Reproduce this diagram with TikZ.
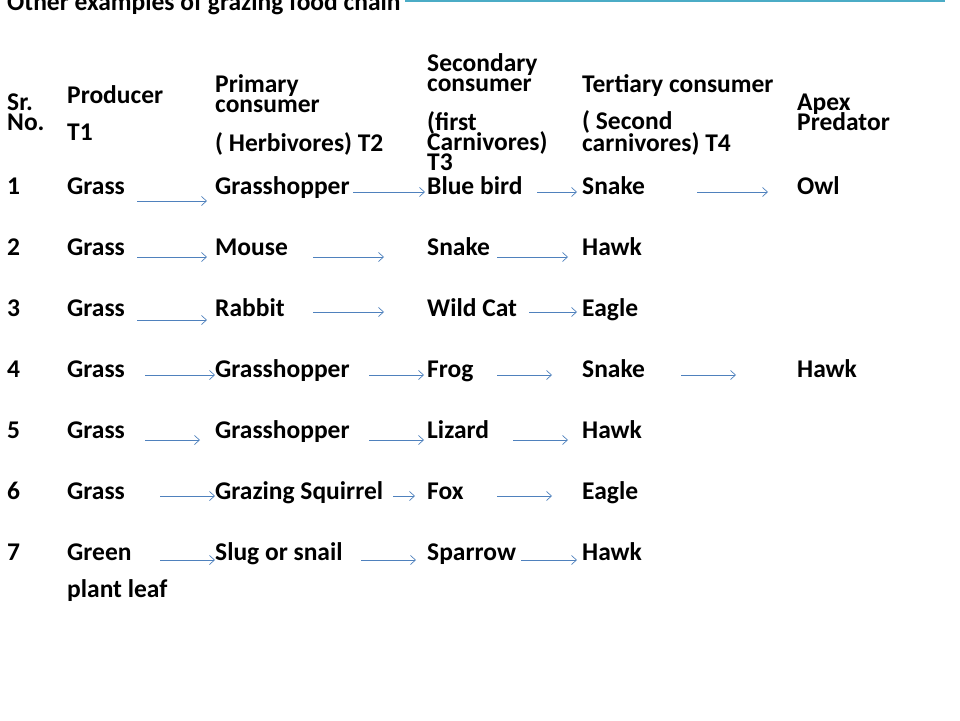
\documentclass[tikz,border=0pt]{standalone}
\usepackage{fontspec}
\setmainfont{Carlito}
\usetikzlibrary{arrows.meta}
\definecolor{arc}{RGB}{79,129,189}
\definecolor{topline}{RGB}{75,172,198}
\begin{document}
\begin{tikzpicture}[x=1pt,y=-1pt,
  t/.style={anchor=west,inner sep=0pt,text height=0.68em,text depth=0.22em,font=\fontsize{25.5}{25.5}\selectfont\bfseries},
  ar/.style={draw=arc,line width=0.7pt,-{Straight Barb[length=5pt,width=9pt]}}]
\useasboundingbox (0,0) rectangle (960,720);
\draw[topline,line width=1.2pt] (405,1) -- (945,1);
\node[t] (title) at (7,8) {Other examples of grazing food chain};
\foreach \x/\y/\s [count=\i] in {7/108/Sr.,7/128/No.,67/101/Producer,67/138/T1,215/90/Primary,215/110/consumer,215/149/( Herbivores) T2,427/69/Secondary,427/89/consumer,427/128/(first,427/148/Carnivores),427/168/T3,582/90/Tertiary consumer,582/127/( Second,582/149/carnivores) T4,797/108/Apex,797/128/Predator}
  \node[t] (h\i) at (\x,\y) {\s};
\foreach \y/\n/\a/\b/\c/\d/\e [count=\r] in {192/1/Grass/Grasshopper/Blue bird/Snake/Owl,253/2/Grass/Mouse/Snake/Hawk/,314/3/Grass/Rabbit/Wild Cat/Eagle/,375/4/Grass/Grasshopper/Frog/Snake/Hawk,436/5/Grass/Grasshopper/Lizard/Hawk/,497/6/Grass/Grazing Squirrel/Fox/Eagle/,558/7/Green/Slug or snail/Sparrow/Hawk/}{
  \node[t] (n\r) at (7,\y) {\n};
  \node[t] (a\r) at (67,\y) {\a};
  \node[t] (b\r) at (215,\y) {\b};
  \node[t] (c\r) at (427,\y) {\c};
  \node[t] (d\r) at (582,\y) {\d};
  \node[t] (e\r) at (797,\y) {\e};
}
\node[t] (a7b) at (67,595) {plant leaf};
\foreach \xa/\xb/\y [count=\k] in {137/207/201,353/425/192,537/577/192,697/768/192,
 137/207/257,313/384/257,497/568/257,
 137/207/320,313/384/312,529/577/312,
 145/215/375,369/424/375,497/552/375,681/736/375,
 145/200/440,369/424/440,513/568/440,
 160/215/496,393/415/496,497/552/496,
 160/215/560,361/416/560,521/577/560}{
  \coordinate (s\k) at (\xa,\y); \coordinate (f\k) at (\xb,\y);
  \draw[ar] (s\k) -- (f\k);
}
\end{tikzpicture}
\end{document}
